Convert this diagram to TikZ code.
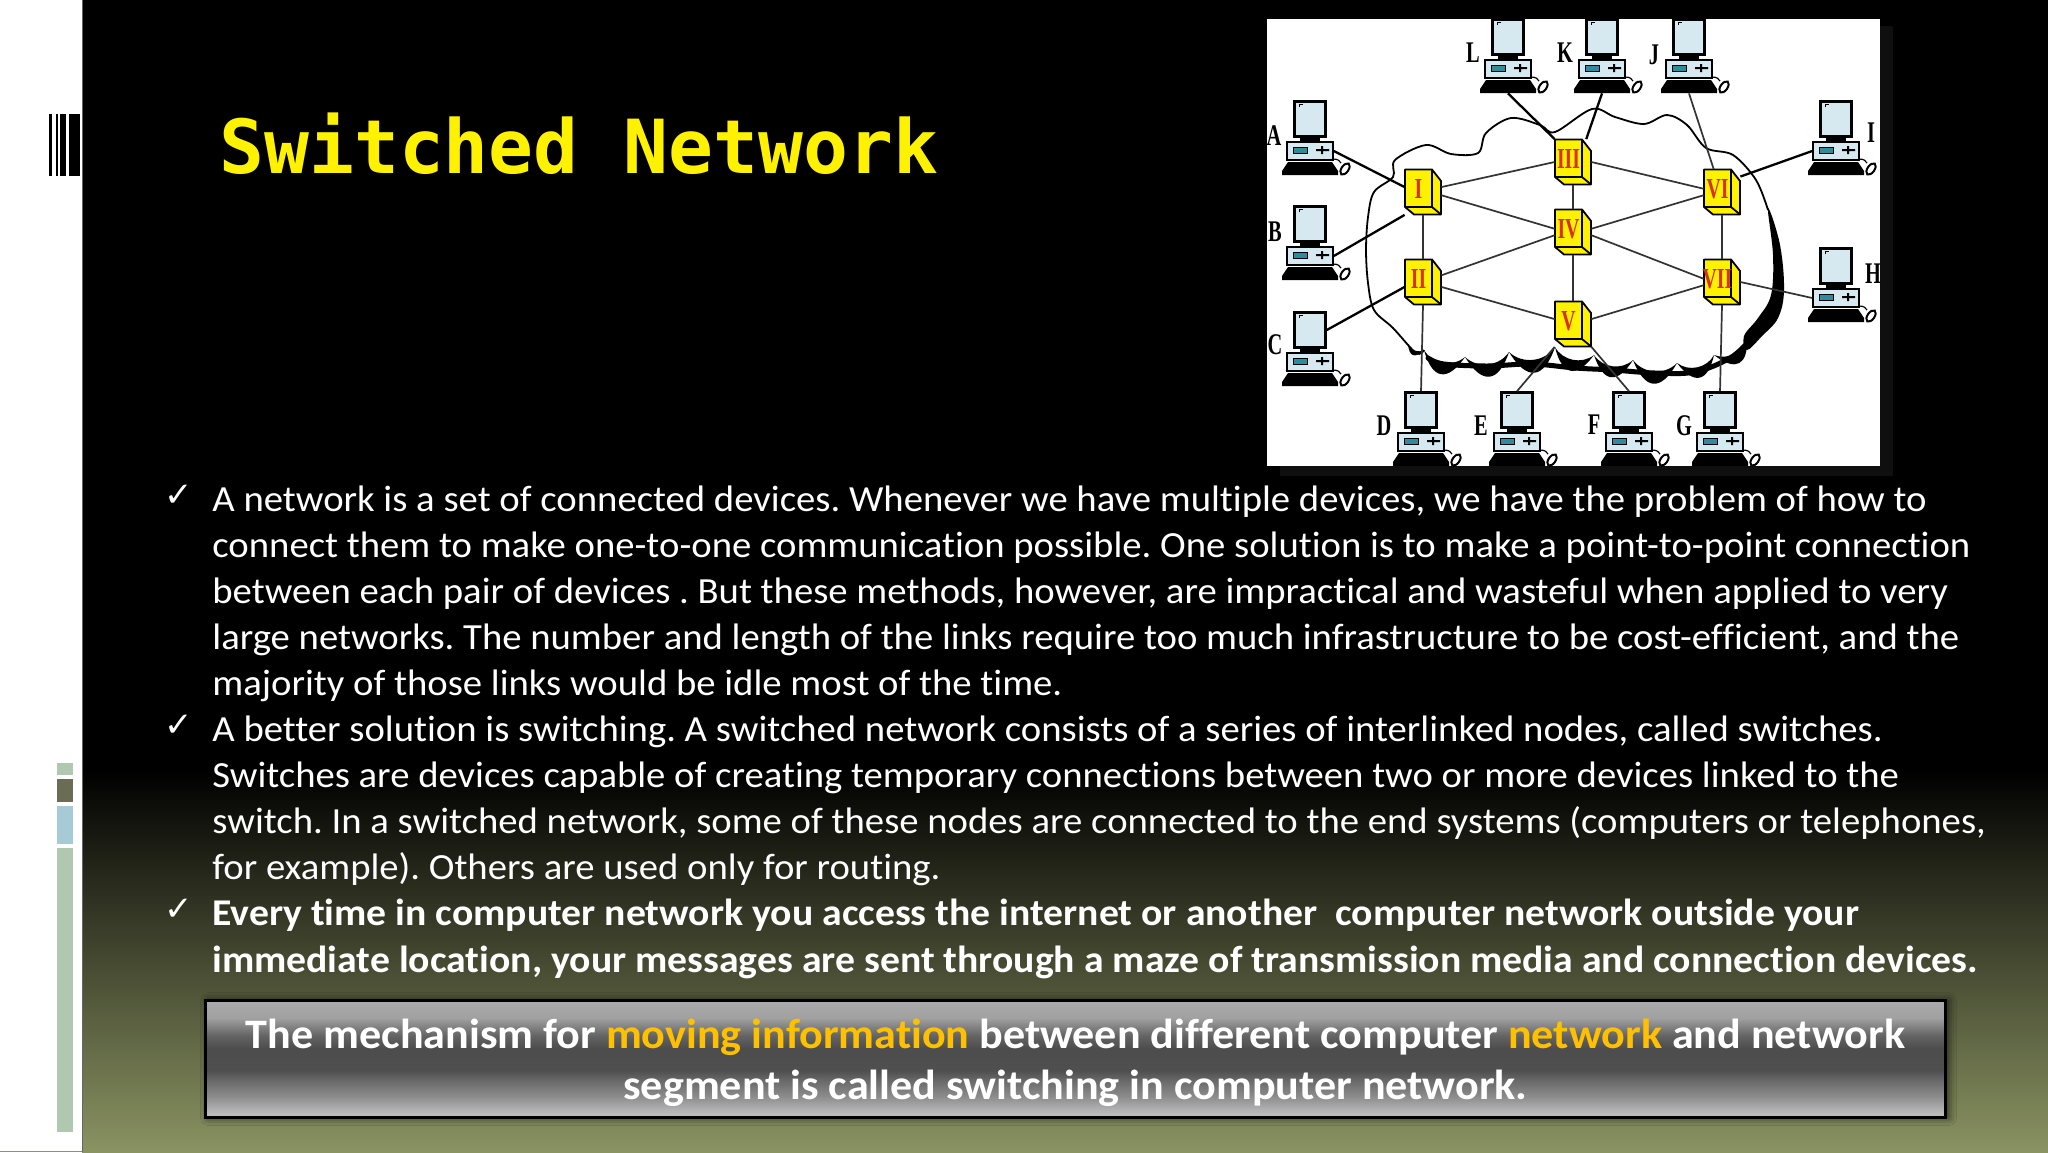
\documentclass[tikz,border=0pt]{standalone}
\usepackage{fontspec}
\setmainfont[FakeStretch=1.05,Ligatures=NoCommon]{Carlito}
\newfontfamily\titlefont{DejaVu Sans Mono}
\newfontfamily\checkfont{DejaVu Sans}
\newfontfamily\netfont[FakeStretch=0.68]{Liberation Serif}
\usetikzlibrary{positioning}
\usetikzlibrary{shadows.blur}
\definecolor{screenblue}{HTML}{D6E8F0}
\definecolor{slotteal}{HTML}{2F8C9C}
\definecolor{switchyellow}{HTML}{FFF200}
\definecolor{switchred}{HTML}{D9301A}
\definecolor{sagebar}{HTML}{AFC8AF}
\definecolor{olivebar}{HTML}{6A6C54}
\definecolor{skybar}{HTML}{A6CBD6}
\definecolor{bottomolive}{HTML}{8A9362}
\definecolor{accentgold}{HTML}{FFC000}
\pgfdeclareverticalshading{glossbar}{100bp}{rgb(0bp)=(.75,.75,.75); rgb(25bp)=(.75,.75,.75); rgb(27.5bp)=(.72,.72,.72); rgb(34bp)=(.55,.55,.55); rgb(41bp)=(.41,.41,.41); rgb(45bp)=(.31,.31,.31); rgb(54.5bp)=(.3,.3,.3); rgb(60bp)=(.39,.39,.39); rgb(67.5bp)=(.63,.63,.63); rgb(75bp)=(.67,.67,.67); rgb(100bp)=(.67,.67,.67)}
\tikzset{
	bodytext/.style={anchor=north west,inner sep=0pt,align=left,text=white,font=\frenchspacing\fontsize{18.43}{23.05}\selectfont},
	checkmark/.style={anchor=center,inner sep=0pt,text=white,font=\checkfont\fontsize{17}{17}\selectfont},
	pclabel/.style={inner sep=0pt,text=black,font=\netfont\bfseries\fontsize{15}{15}\selectfont},
	link/.style={every edge/.style={draw,line width=.85pt,color=black!80}},
	heavy link/.style={every edge/.style={draw,line width=1.15pt,color=black}},
	pics/computer/.style={code={
		\node[draw=black,line width=1.3pt,fill=screenblue,minimum width=15.5pt,minimum height=17.5pt,inner sep=0pt] (-screen) at (0,0) {};
		\draw[black,line width=.5pt] (-11,-12) -- (-11,-15) -- (-7,-15);
		\fill[black] (-10,18) rectangle (10,23);
		\node[draw=black,line width=.8pt,fill=screenblue,minimum width=23pt,minimum height=9pt,inner sep=0pt] (-case) at (0,32) {};
		\fill[slotteal,draw=black,line width=.3pt] (-17,28) rectangle (-3,34);
		\fill[black] (6,30) rectangle (19,32) (11,27) rectangle (13,35);
		\node[minimum width=28pt,minimum height=6.5pt,inner sep=0pt] (-kbd) at (0,49.5) {};
		\fill[black] (-22,43) -- (22,43) -- (28,52) -- (28,56) -- (-28,56) -- (-28,52) -- cycle;
		\draw[black,line width=.6pt] (23,40) .. controls (28,40) and (30,42) .. (31,44);
		\draw[fill=white,line width=1pt,rotate around={-35:(35,50)}] (35,50) ellipse (3.5 and 6.5);
	}},
	pics/switchbox/.style={code={
		\node[minimum width=18pt,minimum height=22.5pt,inner sep=0pt] (-box) at (0,0) {};
		\draw[fill=switchyellow,line width=.9pt,line join=round] (-18,-22.5) -- (9,-22.5) -- (18,-11) -- (18,22.5) -- (-9,22.5) -- (-18,15) -- cycle;
		\draw[line width=.9pt,line join=round] (-18,15) -- (9,15) -- (18,22.5) (9,15) -- (9,-22.5);
		\node[inner sep=0pt,text=switchred,font=\netfont\bfseries\fontsize{14.5}{14.5}\selectfont] (-tag) at (-4.5,-3) {#1};
	}}
}
\begin{document}
\begin{tikzpicture}[x=.5pt,y=-.5pt]
	\useasboundingbox (0,0) rectangle (2048,1152);
	
	\fill[white] (0,0) rectangle (82,1152);
	\fill[bottomolive] (0,1151) rectangle (82,1152);
	\fill[black] (82,0) rectangle (2048,770);
	\shade[top color=black,bottom color=bottomolive] (82,770) rectangle (2048,1152);
	\draw[black!60,line width=.5pt] (82,0) -- (82,1152);
	
	\foreach \bl/\br in {49.3/51.7,55.7/58.3,60/66.3,69.3/80}
		\fill[black] (\bl,114) rectangle (\br,175.7);
	\fill[sagebar] (56.7,762.7) rectangle (73.3,775);
	\fill[olivebar] (56.7,779) rectangle (73.3,802);
	\fill[skybar] (56.7,805.7) rectangle (73.3,844);
	\fill[sagebar] (56.7,847.7) rectangle (73.3,1131.7);
	
	\node[anchor=base west,inner sep=0pt,text=yellow,font=\titlefont\bfseries\fontsize{37.3}{37.3}\selectfont] (title) at (219,173) {Switched Network};
	
	\fill[black!94] (1280,26) rectangle (1893,476);
	\fill[white] (1267,19) rectangle (1880,466);
	\begin{scope}
		\clip (1267,19) rectangle (1880,466);
		
		\draw[black,line width=.9pt] plot[smooth,tension=.55] coordinates {(1424,350) (1416,353) (1393,328) (1374,310) (1368,283) (1366,250) (1368,217) (1374,192) (1393,177) (1395,160) (1426,145) (1451,154) (1478,153) (1486,133) (1511,118) (1540,125) (1555,132) (1592,109) (1615,117) (1644,124) (1667,115) (1687,125) (1706,148) (1733,155) (1756,180) (1768,210)};
		\fill[black] plot[smooth cycle,tension=.6] coordinates {(1768,208) (1780,245) (1784,290) (1778,318) (1762,336) (1747,350) (1744,336) (1758,318) (1771,295) (1773,255)};
		\foreach \cx/\cy [remember=\cx as \px (initially 1408),remember=\cy as \py (initially 344)] in {1424/350,1465/357,1509/352,1555/347,1594/355,1633/360,1677/363,1714/355,1747/338}
			\fill[black] (\px,\py) to[bend right=65,looseness=1.9] (\cx,\cy) to[bend left=50] (\px,\py);
		\draw[black,line width=2.5pt,line cap=round] plot[smooth,tension=.6] coordinates {(1428,358) (1444,364) (1487,366) (1532,364) (1575,368) (1613,370) (1655,373) (1695,372) (1730,358) (1748,342)};
		
		\foreach \nm/\px/\py/\lx/\ly in {A/1310/119/1274/136,B/1310/224/1275/232,C/1310/330/1275/345,D/1421/410/1384/426,E/1517/410/1481/426,F/1629/410/1594/425,G/1720/410/1684/426,H/1836/266/1873/274,I/1836/119/1871/133,J/1689/37/1654/55,K/1602/37/1565/53,L/1508/37/1473/53}{
			\pic (pc\nm) at (\px,\py) {computer};
			\node[pclabel] (lbl\nm) at (\lx,\ly) {\nm};
		}
		
		\pic (swI) at (1423,192) {switchbox=I};
		\pic (swII) at (1423,282) {switchbox=II};
		\pic (swIII) at (1573,162) {switchbox=III};
		\pic (swIV) at (1573,232) {switchbox=IV};
		\pic (swV) at (1573,324) {switchbox=V};
		\pic (swVI) at (1722,192) {switchbox=VI};
		\pic (swVII) at (1722,282) {switchbox=VII};
		
		\path[heavy link]
		(pcA-case.east) edge (swI-box.165)
		(pcB-case.east) edge (swI-box.south west)
		(pcC-screen.east) edge (swII-box.195)
		(pcL-kbd.south) edge (swIII-box.north west)
		(pcK-kbd.south) edge (swIII-box.60)
		(pcI-case.west) edge (swVI-box.40);
		
		\path[link]
		(pcJ-kbd.south) edge (swVI-box.110)
		(pcH-case.west) edge (swVII-box.east)
		(swI-box.15) edge (swIII-box.west)
		(swI-box.-10) edge (swIV-box.170)
		(swII-box.20) edge (swIV-box.190)
		(swII-box.-15) edge (swV-box.165)
		(swVI-box.170) edge (swIII-box.east)
		(swVI-box.190) edge (swIV-box.10)
		(swVII-box.170) edge (swIV-box.-10)
		(swVII-box.190) edge (swV-box.15)
		(swI-box.south) edge (swII-box.north)
		(swVI-box.south) edge (swVII-box.north)
		(swIII-box.south) edge (swIV-box.north)
		(swIV-box.south) edge (swV-box.north)
		(swII-box.south) edge (pcD-screen.north)
		(swVII-box.south) edge (pcG-screen.north)
		(swV-box.south west) edge (pcE-screen.north)
		(swV-box.south east) edge (pcF-screen.north);
	\end{scope}
	
	\node[bodytext] (para1) at (212,485) {A network is a set of connected devices. Whenever we have multiple devices, we have the problem of how to\\
	connect them to make one-to-one communication possible. One solution is to make a point-to-point connection\\
	between each pair of devices . But these methods, however, are impractical and wasteful when applied to very\\
	large networks. The number and length of the links require too much infrastructure to be cost-efficient, and the\\
	majority of those links would be idle most of the time.};
	\node[bodytext] (para2) at (212,715) {A better solution is switching. A switched network consists of a series of interlinked nodes, called switches.\\
	Switches are devices capable of creating temporary connections between two or more devices linked to the\\
	switch. In a switched network, some of these nodes are connected to the end systems (computers or telephones,\\
	for example). Others are used only for routing.};
	\node[bodytext,font=\frenchspacing\fontsize{18.9}{23.05}\selectfont\bfseries] (para3) at (212,899) {Every time in computer network you access the internet or another\ \ computer network outside your\\
	immediate location, your messages are sent through a maze of transmission media and connection devices.};
	
	\node[checkmark] (check1) at (179,496) {✓};
	\node[checkmark] (check2) at (179,726) {✓};
	\node[checkmark] (check3) at (179,910) {✓};
	
	\node[draw=black,line width=1.2pt,shade,shading=glossbar,minimum width=870pt,minimum height=58.5pt,inner sep=0pt,
		blur shadow={shadow xshift=1.5pt,shadow yshift=0pt,shadow blur radius=4pt,shadow opacity=70}] (banner) at (1075.5,1059) {};
	\node[inner sep=0pt,align=center,text=white,font=\frenchspacing\bfseries\fontsize{21}{25.5}\selectfont,below=-20.2pt of banner.center] (bannertext) {The mechanism for \textcolor{accentgold}{moving information} between different computer \textcolor{accentgold}{network} and network\\
	segment is called switching in computer network.};
\end{tikzpicture}
\end{document}
